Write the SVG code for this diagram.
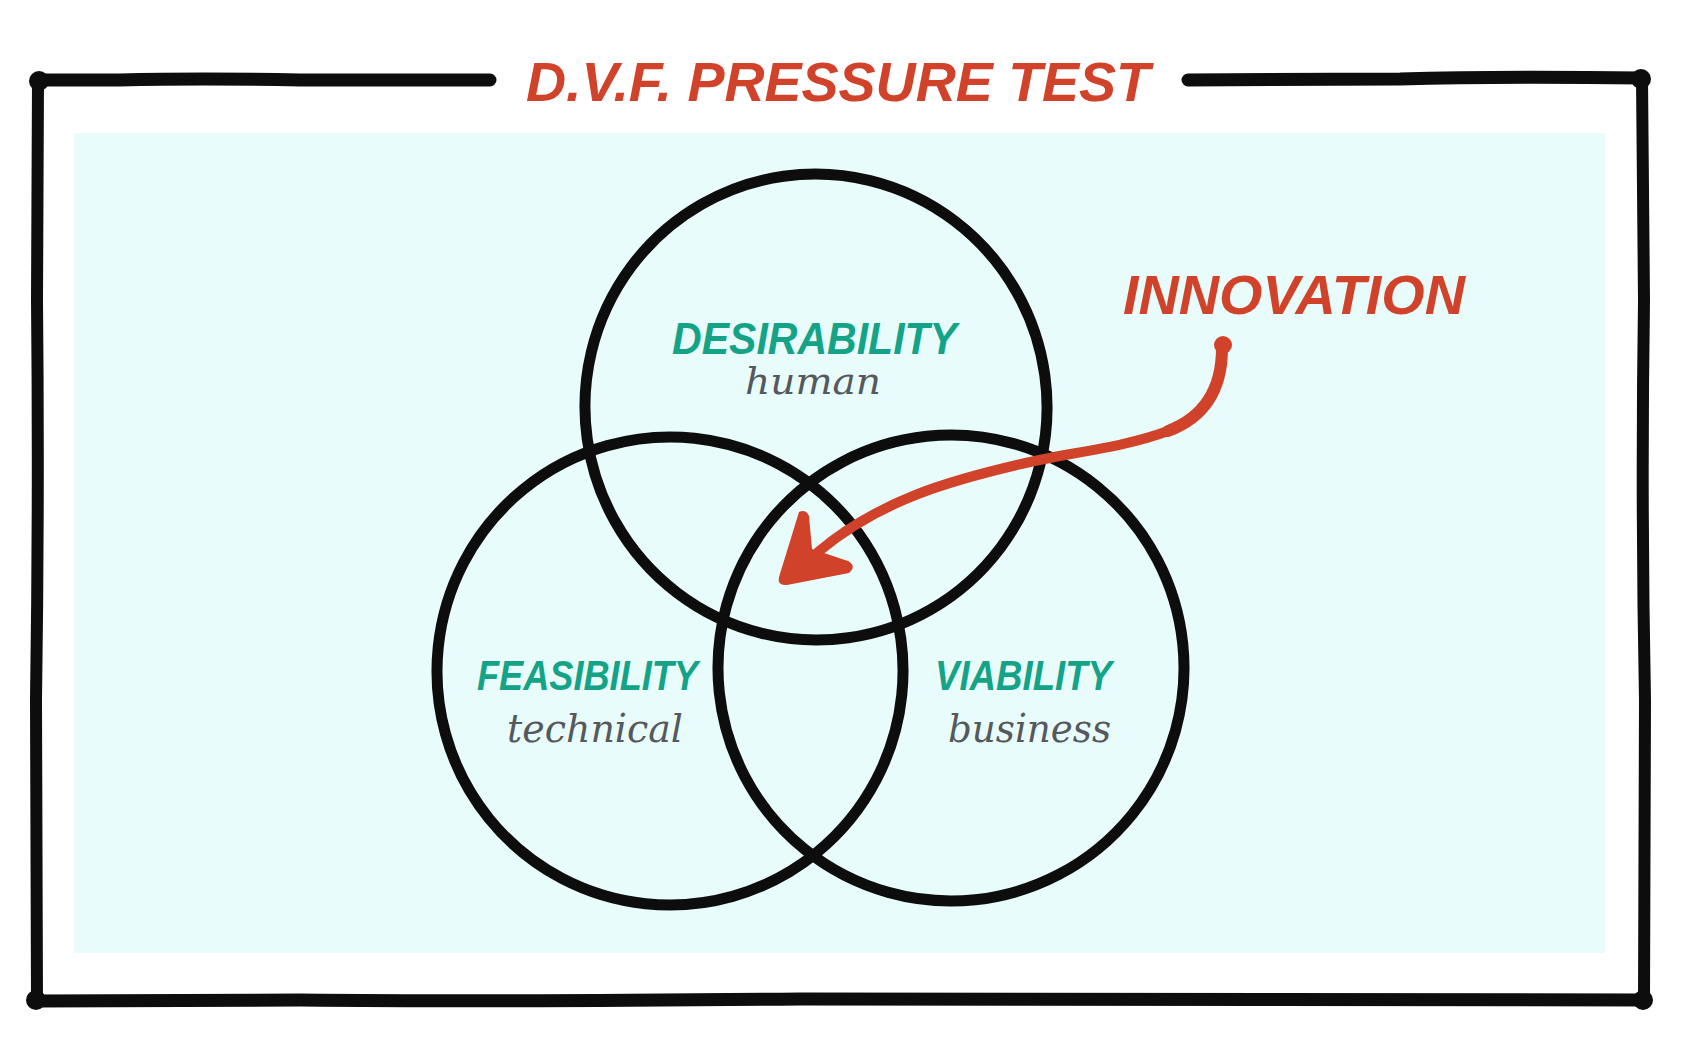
<svg xmlns="http://www.w3.org/2000/svg" width="1682" height="1044" viewBox="0 0 1682 1044">
  <style>
    .ink { fill: none; stroke: #0d0d0d; stroke-linecap: round; stroke-linejoin: round; }
    .ring { fill: none; stroke: #0d0d0d; stroke-width: 11; }
    .hand { font-family: "Liberation Sans", "DejaVu Sans", sans-serif; font-weight: bold; font-style: italic; }
    .red { fill: #d0432a; }
    .teal { fill: #14a386; }
    .sub { font-family: "DejaVu Serif", "Liberation Serif", serif; font-style: italic; fill: #55585c; }
    .shaft { fill: none; stroke: #d0432a; stroke-linecap: round; stroke-linejoin: round; }
  </style>
  <rect x="0" y="0" width="1682" height="1044" fill="#ffffff"/>
  <g id="panel">
    <rect x="74" y="133" width="1531" height="820" fill="#e8fcfb"/>
  </g>
  <g id="frame">
    <path class="ink" stroke-width="13" d="M 490 80 L 300 80 Q 200 78 120 80 L 38 80"/>
    <path class="ink" stroke-width="13" d="M 1188 80 L 1400 79 Q 1500 76 1642 78"/>
    <path class="ink" stroke-width="12" d="M 38 80 L 37 300 Q 39 500 36 700 L 37 1001"/>
    <path class="ink" stroke-width="12" d="M 1642 78 L 1644 300 Q 1641 500 1645 700 L 1644 1001"/>
    <path class="ink" stroke-width="13" d="M 37 1001 L 300 1000 Q 500 1002 800 999 Q 1200 1001 1644 1000"/>
    <circle cx="39" cy="81" r="10" fill="#0d0d0d"/>
    <circle cx="1641" cy="79" r="10" fill="#0d0d0d"/>
    <circle cx="36" cy="1000" r="10" fill="#0d0d0d"/>
    <circle cx="1643" cy="1000" r="10" fill="#0d0d0d"/>
  </g>
  <g id="title">
    <text class="hand red" x="526" y="101" font-size="56" textLength="624" lengthAdjust="spacingAndGlyphs">D.V.F. PRESSURE TEST</text>
  </g>
  <g id="desirability">
    <ellipse class="ring" cx="816" cy="407" rx="231" ry="233" transform="rotate(-8 816 407)"/>
    <text class="hand teal" x="672" y="354" font-size="44" textLength="285" lengthAdjust="spacingAndGlyphs">DESIRABILITY</text>
    <text class="sub" x="745" y="394" font-size="38" textLength="136" lengthAdjust="spacingAndGlyphs">human</text>
  </g>
  <g id="feasibility">
    <ellipse class="ring" cx="670" cy="671" rx="233" ry="234" transform="rotate(6 670 671)"/>
    <text class="hand teal" x="477" y="690" font-size="42" textLength="221" lengthAdjust="spacingAndGlyphs">FEASIBILITY</text>
    <text class="sub" x="507" y="742" font-size="40" textLength="176" lengthAdjust="spacingAndGlyphs">technical</text>
  </g>
  <g id="viability">
    <ellipse class="ring" cx="951" cy="668" rx="233" ry="233" transform="rotate(-6 951 668)"/>
    <text class="hand teal" x="935" y="690" font-size="42" textLength="177" lengthAdjust="spacingAndGlyphs">VIABILITY</text>
    <text class="sub" x="948" y="742" font-size="40" textLength="163" lengthAdjust="spacingAndGlyphs">business</text>
  </g>
  <g id="innovation">
    <text class="hand red" x="1123" y="314" font-size="56" textLength="342" lengthAdjust="spacingAndGlyphs">INNOVATION</text>
  </g>
  <g id="connectors">
    <path class="shaft" stroke-width="10" d="M 1222 348 C 1222 388 1205 417 1168 431 C 1125 447 1075 452 1030 462 C 950 480 880 500 818 552"/>
    <path class="shaft" stroke-width="12" d="M 1222 348 C 1222 388 1205 417 1168 431"/>
    <circle cx="1223" cy="345" r="9" fill="#d0432a"/>
    <path d="M 799 512 Q 806 509 809 516 L 812 549 L 848 561 Q 857 566 849 573 L 787 585 Q 777 586 779 577 Z" fill="#d0432a"/>
  </g>
</svg>
